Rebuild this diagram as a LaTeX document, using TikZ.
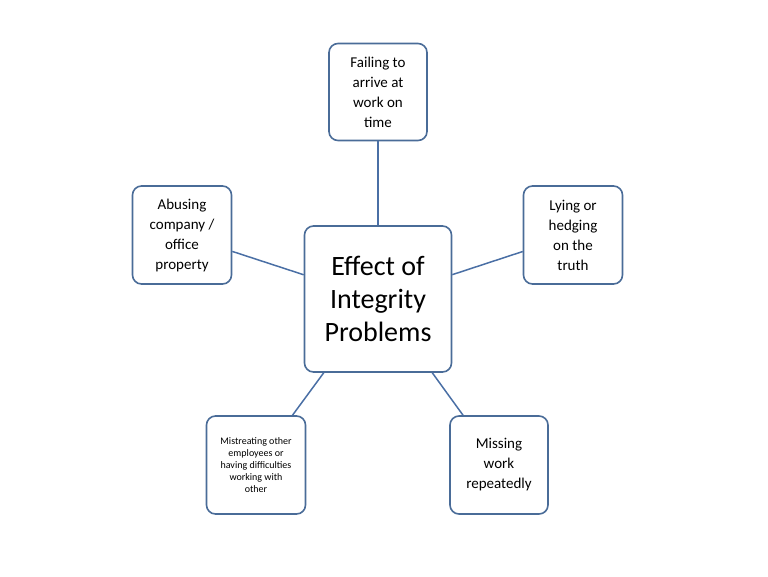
\documentclass[tikz,border=0pt]{standalone}
\usepackage{fontspec}
\setmainfont{Carlito}
\begin{document}
\begin{tikzpicture}[x=1pt,y=-1pt,
  box/.style={draw=boxblue,line width=1.6pt,rounded corners=9pt,fill=white,align=center,inner sep=2pt},
  link/.style={draw=lineblue,line width=1.5pt}]
\definecolor{boxblue}{HTML}{4A6C98}
\definecolor{lineblue}{HTML}{4A6FA5}
\useasboundingbox (0,0) rectangle (768,576);
\node[box,minimum width=147pt,minimum height=146pt,font=\fontsize{28}{33}\selectfont] (c) at (378,299) {Effect of\\Integrity\\Problems};
\node[box,minimum width=98pt,minimum height=97pt,font=\fontsize{15}{20}\selectfont] (t) at (378,92) {Failing to\\arrive at\\work on\\time};
\node[box,minimum width=99pt,minimum height=98pt,font=\fontsize{15}{20}\selectfont] (l) at (182,235) {Abusing\\company /\\office\\property};
\node[box,minimum width=99pt,minimum height=98pt,font=\fontsize{15}{20}\selectfont] (r) at (573,235) {Lying or\\hedging\\on the\\truth};
\node[box,minimum width=99pt,minimum height=98pt,font=\fontsize{10}{12}\selectfont] (bl) at (256,465) {Mistreating other\\employees or\\having difficulties\\working with\\other};
\node[box,minimum width=98pt,minimum height=98pt,font=\fontsize{15}{20}\selectfont] (br) at (499,465) {Missing\\work\\repeatedly};
\draw[link] (c) -- (t);
\draw[link] (c) -- (l);
\draw[link] (c) -- (r);
\draw[link] (c.south west) ++(20,0) coordinate (a1) (a1) -- (bl);
\draw[link] (c.south east) ++(-20,0) coordinate (a2) (a2) -- (br);
\end{tikzpicture}
\end{document}
